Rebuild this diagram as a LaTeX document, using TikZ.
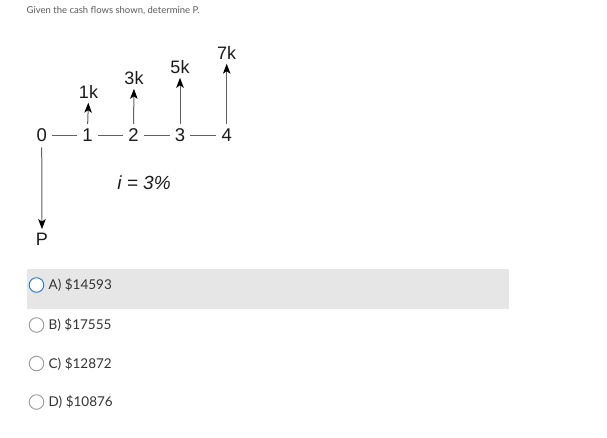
\documentclass[tikz,border=0pt]{standalone}
\usepackage{fontspec}
\setmainfont{Liberation Sans}
\newfontfamily\latofont{Lato}
\usetikzlibrary{arrows.meta}
\definecolor{titlegray}{HTML}{5A5A5A}
\definecolor{opttext}{HTML}{333333}
\definecolor{boxgray}{HTML}{E6E6E6}
\definecolor{radioblue}{HTML}{2277D0}
\definecolor{radiogray}{HTML}{999999}
\definecolor{shaft}{HTML}{606060}
\definecolor{digitcol}{HTML}{1A1A1A}
\begin{document}
\begin{tikzpicture}[x=1pt,y=-1pt,
  digit/.style={inner sep=0pt,text=digitcol,font=\fontsize{18.5}{20}\selectfont},
  cflabel/.style={inner sep=0pt,text=digitcol,font=\fontsize{18}{20}\selectfont},
  tick/.style={draw=shaft,line width=0.8pt,shorten <=5pt,shorten >=5pt},
  flow/.style={draw=shaft,line width=1pt,-{Stealth[length=10pt,width=7.5pt,inset=2.5pt,color=black,fill=black]},shorten <=5pt,shorten >=4pt},
  opt/.style={anchor=west,inner sep=0pt,text=opttext,font=\latofont\fontsize{13.5}{15}\selectfont},
  radio/.style={circle,draw=radiogray,line width=0.9pt,minimum size=14.6pt,inner sep=0pt,fill=white}
]
\useasboundingbox (0,0) rectangle (607,437);
% title
\node[anchor=west,inner sep=0pt,text=titlegray,font=\latofont\fontsize{9.5}{11}\selectfont] (title) at (26.5,10.5) {Given the cash flows shown, determine P.};
% timeline
\node[digit] (t0) at (41.7,135.5) {0};
\node[digit] (t1) at (87.5,135.5) {1};
\node[digit] (t2) at (133.5,135.5) {2};
\node[digit] (t3) at (180,135.5) {3};
\node[digit] (t4) at (226.7,135.5) {4};
\draw[tick] (t0) -- (t1);
\draw[tick] (t1) -- (t2);
\draw[tick] (t2) -- (t3);
\draw[tick] (t3) -- (t4);
% cash flow labels
\node[cflabel] (l1) at (88.5,92) {1k};
\node[cflabel] (l2) at (134,78) {3k};
\node[cflabel] (l3) at (180,67) {5k};
\node[cflabel] (l4) at (226.7,53) {7k};
\draw[flow] (t1.north) -- (l1.south);
\draw[flow] (t2.north) -- (l2.south);
\draw[flow] (t3.north) -- (l3.south);
\draw[flow] (t4.north) -- (l4.south);
% P
\node[cflabel] (P) at (42,239.5) {P};
\draw[flow] (t0.south) -- (P.north);
% interest
\node[inner sep=0pt,text=digitcol,font=\fontsize{19}{21}\selectfont\itshape] (rate) at (144,182.5) {i = 3\%};
% options
\fill[boxgray] (26.7,269) rectangle (509,309);
\node[radio,draw=radioblue] (ra) at (36.5,285) {};
\node[opt] (oa) at (48.5,285) {A) \$14593};
\node[radio] (rb) at (36.5,325) {};
\node[opt] (ob) at (48.5,325) {B) \$17555};
\node[radio] (rc) at (36.5,363.5) {};
\node[opt] (oc) at (48.5,363.5) {C) \$12872};
\node[radio] (rd) at (36.5,402) {};
\node[opt] (od) at (48.5,402) {D) \$10876};
\end{tikzpicture}
\end{document}
